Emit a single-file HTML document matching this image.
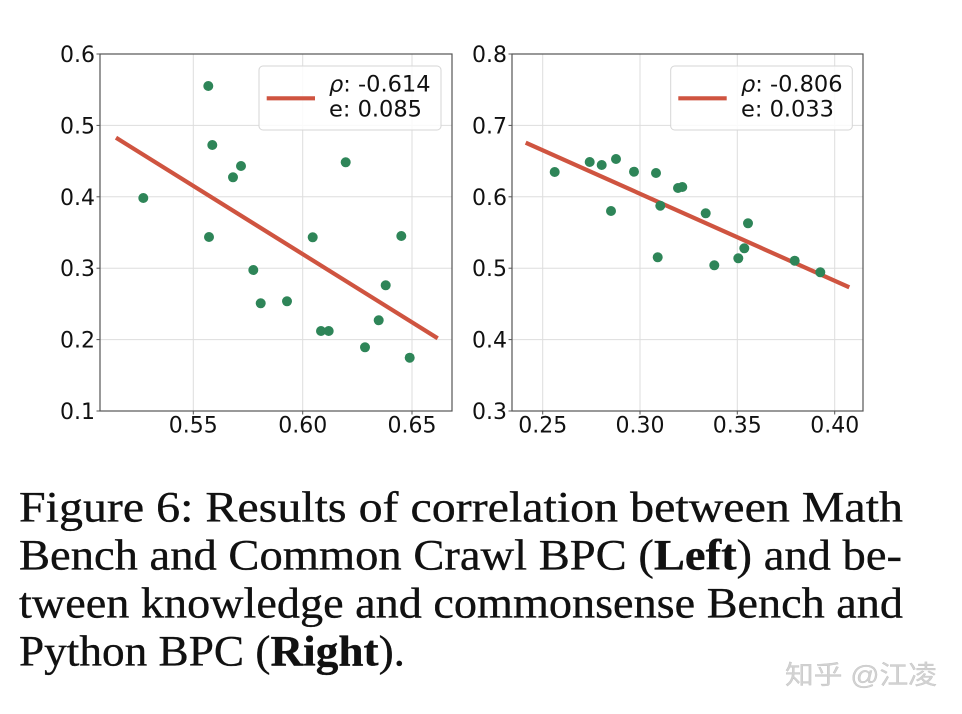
<!DOCTYPE html>
<html>
<head>
<meta charset="utf-8">
<style>
  html, body { margin: 0; padding: 0; background: #ffffff; }
  svg { display: block; }
</style>
</head>
<body>
<svg width="962" height="714" viewBox="0 0 962 714" xmlns="http://www.w3.org/2000/svg">
  <rect x="0" y="0" width="962" height="714" fill="#ffffff"/>

  <!-- ================= LEFT PLOT ================= -->
  <g>
    <g stroke="#dddddd" stroke-width="1">
      <line x1="193.3" y1="54" x2="193.3" y2="411"/>
      <line x1="302.7" y1="54" x2="302.7" y2="411"/>
      <line x1="412" y1="54" x2="412" y2="411"/>
      <line x1="100" y1="339.6" x2="452" y2="339.6"/>
      <line x1="100" y1="268.2" x2="452" y2="268.2"/>
      <line x1="100" y1="196.8" x2="452" y2="196.8"/>
      <line x1="100" y1="125.4" x2="452" y2="125.4"/>
    </g>
    <g stroke="#555555" stroke-width="1">
      <line x1="96.5" y1="54" x2="100" y2="54"/>
      <line x1="96.5" y1="125.4" x2="100" y2="125.4"/>
      <line x1="96.5" y1="196.8" x2="100" y2="196.8"/>
      <line x1="96.5" y1="268.2" x2="100" y2="268.2"/>
      <line x1="96.5" y1="339.6" x2="100" y2="339.6"/>
      <line x1="96.5" y1="411" x2="100" y2="411"/>
      <line x1="193.3" y1="411" x2="193.3" y2="414.5"/>
      <line x1="302.7" y1="411" x2="302.7" y2="414.5"/>
      <line x1="412" y1="411" x2="412" y2="414.5"/>
    </g>
    <line x1="116" y1="137.7" x2="437.7" y2="338.3" stroke="#cf5440" stroke-width="4.2" stroke-linecap="butt"/>
    <g fill="#2e8558">
      <circle cx="143.3" cy="198" r="5"/>
      <circle cx="208.3" cy="86" r="5"/>
      <circle cx="212.3" cy="145" r="5"/>
      <circle cx="209" cy="237" r="5"/>
      <circle cx="233" cy="177.3" r="5"/>
      <circle cx="241" cy="166" r="5"/>
      <circle cx="253.3" cy="270" r="5"/>
      <circle cx="260.7" cy="303.3" r="5"/>
      <circle cx="287" cy="301.3" r="5"/>
      <circle cx="312.7" cy="237.3" r="5"/>
      <circle cx="321" cy="331" r="5"/>
      <circle cx="328.7" cy="331" r="5"/>
      <circle cx="345.7" cy="162.3" r="5"/>
      <circle cx="365" cy="347.3" r="5"/>
      <circle cx="378.7" cy="320.3" r="5"/>
      <circle cx="385.7" cy="285.3" r="5"/>
      <circle cx="401.3" cy="236" r="5"/>
      <circle cx="409.7" cy="357.7" r="5"/>
    </g>
    <rect x="100" y="54" width="352" height="357" fill="none" stroke="#555555" stroke-width="1.2"/>
    <rect x="259" y="66" width="182" height="64" rx="4" ry="4" fill="#ffffff" fill-opacity="0.85" stroke="#d6d6d6" stroke-width="1"/>
    <line x1="266.7" y1="98.3" x2="315" y2="98.3" stroke="#cf5440" stroke-width="4.2"/>
    <g font-family="'DejaVu Sans', 'Liberation Sans', sans-serif" font-size="22.5" fill="#111111">
      <text x="329" y="91.7"><tspan font-style="italic">ρ</tspan>: -0.614</text>
      <text x="329" y="116.7">e: 0.085</text>
    </g>
    <g font-family="'DejaVu Sans', 'Liberation Sans', sans-serif" font-size="22" fill="#111111" text-anchor="end">
      <text x="95" y="62">0.6</text>
      <text x="95" y="133.4">0.5</text>
      <text x="95" y="204.8">0.4</text>
      <text x="95" y="276.2">0.3</text>
      <text x="95" y="347.6">0.2</text>
      <text x="95" y="419">0.1</text>
    </g>
    <g font-family="'DejaVu Sans', 'Liberation Sans', sans-serif" font-size="22" fill="#111111" text-anchor="middle">
      <text x="193.3" y="432.5">0.55</text>
      <text x="302.7" y="432.5">0.60</text>
      <text x="412" y="432.5">0.65</text>
    </g>
  </g>

  <!-- ================= RIGHT PLOT ================= -->
  <g>
    <g stroke="#dddddd" stroke-width="1">
      <line x1="542.7" y1="54" x2="542.7" y2="411"/>
      <line x1="640" y1="54" x2="640" y2="411"/>
      <line x1="737.3" y1="54" x2="737.3" y2="411"/>
      <line x1="834.7" y1="54" x2="834.7" y2="411"/>
      <line x1="512" y1="339.6" x2="863" y2="339.6"/>
      <line x1="512" y1="268.2" x2="863" y2="268.2"/>
      <line x1="512" y1="196.8" x2="863" y2="196.8"/>
      <line x1="512" y1="125.4" x2="863" y2="125.4"/>
    </g>
    <g stroke="#555555" stroke-width="1">
      <line x1="508.5" y1="54" x2="512" y2="54"/>
      <line x1="508.5" y1="125.4" x2="512" y2="125.4"/>
      <line x1="508.5" y1="196.8" x2="512" y2="196.8"/>
      <line x1="508.5" y1="268.2" x2="512" y2="268.2"/>
      <line x1="508.5" y1="339.6" x2="512" y2="339.6"/>
      <line x1="508.5" y1="411" x2="512" y2="411"/>
      <line x1="542.7" y1="411" x2="542.7" y2="414.5"/>
      <line x1="640" y1="411" x2="640" y2="414.5"/>
      <line x1="737.3" y1="411" x2="737.3" y2="414.5"/>
      <line x1="834.7" y1="411" x2="834.7" y2="414.5"/>
    </g>
    <line x1="525.7" y1="142.7" x2="849.3" y2="287.3" stroke="#cf5440" stroke-width="4.2"/>
    <g fill="#2e8558">
      <circle cx="554.7" cy="172" r="5"/>
      <circle cx="589.7" cy="162" r="5"/>
      <circle cx="601.7" cy="165" r="5"/>
      <circle cx="616" cy="159" r="5"/>
      <circle cx="611" cy="211" r="5"/>
      <circle cx="634" cy="171.7" r="5"/>
      <circle cx="656" cy="173" r="5"/>
      <circle cx="660.3" cy="205.7" r="5"/>
      <circle cx="657.7" cy="257.3" r="5"/>
      <circle cx="678" cy="188" r="5"/>
      <circle cx="682.3" cy="187" r="5"/>
      <circle cx="705.7" cy="213.3" r="5"/>
      <circle cx="714.3" cy="265.3" r="5"/>
      <circle cx="738.3" cy="258.3" r="5"/>
      <circle cx="744.3" cy="248.3" r="5"/>
      <circle cx="748" cy="223.3" r="5"/>
      <circle cx="794.7" cy="260.7" r="5"/>
      <circle cx="820.3" cy="272.3" r="5"/>
    </g>
    <rect x="512" y="54" width="351" height="357" fill="none" stroke="#555555" stroke-width="1.2"/>
    <rect x="670.7" y="66" width="181.6" height="64" rx="4" ry="4" fill="#ffffff" fill-opacity="0.85" stroke="#d6d6d6" stroke-width="1"/>
    <line x1="678.3" y1="98.3" x2="726.7" y2="98.3" stroke="#cf5440" stroke-width="4.2"/>
    <g font-family="'DejaVu Sans', 'Liberation Sans', sans-serif" font-size="22.5" fill="#111111">
      <text x="741" y="91.7"><tspan font-style="italic">ρ</tspan>: -0.806</text>
      <text x="741" y="116.7">e: 0.033</text>
    </g>
    <g font-family="'DejaVu Sans', 'Liberation Sans', sans-serif" font-size="22" fill="#111111" text-anchor="end">
      <text x="507" y="62">0.8</text>
      <text x="507" y="133.4">0.7</text>
      <text x="507" y="204.8">0.6</text>
      <text x="507" y="276.2">0.5</text>
      <text x="507" y="347.6">0.4</text>
      <text x="507" y="419">0.3</text>
    </g>
    <g font-family="'DejaVu Sans', 'Liberation Sans', sans-serif" font-size="22" fill="#111111" text-anchor="middle">
      <text x="542.7" y="432.5">0.25</text>
      <text x="640" y="432.5">0.30</text>
      <text x="737.3" y="432.5">0.35</text>
      <text x="834.7" y="432.5">0.40</text>
    </g>
  </g>

  <!-- ================= CAPTION ================= -->
  <g font-family="'Liberation Serif', 'DejaVu Serif', serif" font-size="43" fill="#111111" stroke="#111111" stroke-width="0.35">
    <text x="19" y="521.5" textLength="884" lengthAdjust="spacingAndGlyphs">Figure 6:  Results of correlation between Math</text>
    <text x="19" y="569.5" textLength="883" lengthAdjust="spacingAndGlyphs">Bench and Common Crawl BPC (<tspan font-weight="bold">Left</tspan>) and be-</text>
    <text x="19" y="617.5" textLength="884" lengthAdjust="spacingAndGlyphs">tween knowledge and commonsense Bench and</text>
    <text x="19" y="665.5" textLength="386" lengthAdjust="spacingAndGlyphs">Python BPC (<tspan font-weight="bold">Right</tspan>).</text>
  </g>

  <!-- watermark -->
  <text x="785" y="684" font-family="'Liberation Sans', 'Noto Sans CJK SC', sans-serif" font-size="26" fill="#d2d2d2" stroke="#bdbdbd" stroke-width="0.3" textLength="152" lengthAdjust="spacingAndGlyphs">知乎 @江凌</text>
</svg>
</body>
</html>
